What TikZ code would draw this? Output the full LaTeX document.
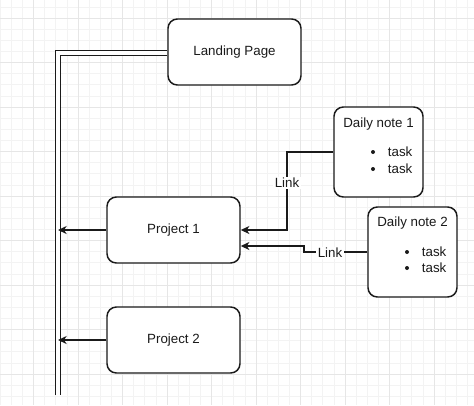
\documentclass[tikz,border=0pt]{standalone}
\usepackage{fontspec}
\setmainfont{Liberation Sans}
\usetikzlibrary{arrows.meta}
\definecolor{ink}{HTML}{1A1A1A}
\definecolor{gridminor}{HTML}{F3F3F3}
\definecolor{gridmajor}{HTML}{E6E6E6}
\tikzset{
  box/.style={draw=ink, line width=1.1pt, rounded corners=7pt, inner sep=0pt, fill=white},
  wide/.style={box, minimum width=99.75pt, minimum height=49.5pt},
  note/.style={box, minimum width=66.75pt, minimum height=67.5pt},
  lbl/.style={font=\fontsize{10}{12}\selectfont, text=ink, inner sep=0.5pt},
  dot/.style={circle, fill=ink, inner sep=0pt, minimum size=3pt},
  edge/.style={draw=ink, line width=1.1pt, -{Stealth[length=6.5pt,width=6pt,inset=2pt]}},
  linklbl/.style={lbl, fill=white, inner sep=1pt},
  trunk/.style={draw=ink, line width=1pt, double=white, double distance=2.4pt},
}
\begin{document}
\begin{tikzpicture}[x=0.75pt, y=-0.75pt]
\useasboundingbox (0,0) rectangle (474,405);
\fill[white] (0,0) rectangle (474,405);
% grid
\foreach \i in {0,...,42} {
  \draw[gridminor, line width=0.5pt] ({0.125+\i*11.125},0) -- ({0.125+\i*11.125},405);
}
\foreach \j in {0,...,36} {
  \draw[gridminor, line width=0.5pt] (0,{6.875+\j*11.125}) -- (474,{6.875+\j*11.125});
}
\foreach \i in {0,...,10} {
  \draw[gridmajor, line width=0.6pt] ({33.5+\i*44.5},0) -- ({33.5+\i*44.5},405);
}
\foreach \j in {0,...,9} {
  \draw[gridmajor, line width=0.6pt] (0,{18+\j*44.5}) -- (474,{18+\j*44.5});
}
% nodes
\node[wide, lbl, draw=ink, line width=1.1pt] (landing) at (234.5,52) {Landing Page};
\node[wide, lbl, draw=ink, line width=1.1pt] (p1) at (173.5,230) {Project 1};
\node[wide, lbl, draw=ink, line width=1.1pt] (p2) at (173.5,340) {Project 2};
\node[note] (dn1) at (378.5,152) {};
\node[note] (dn2) at (412.5,252) {};
\node[lbl] (dn1t) at (378.5,124) {Daily note 1};
\node[dot] (dn1b1) at (373,152) {};
\node[dot] (dn1b2) at (373,169) {};
\node[lbl, anchor=west] (dn1k1) at (387,152) {task};
\node[lbl, anchor=west] (dn1k2) at (387,169) {task};
\node[lbl] (dn2t) at (412.5,223) {Daily note 2};
\node[dot] (dn2b1) at (407,252) {};
\node[dot] (dn2b2) at (407,268) {};
\node[lbl, anchor=west] (dn2k1) at (421,252) {task};
\node[lbl, anchor=west] (dn2k2) at (421,268) {task};
% trunk
\coordinate (tcorner) at (58,53);
\coordinate (tend) at (58,395);
\draw[trunk] (landing.west |- tcorner) -- (tcorner) -- (tend);
\coordinate (a1) at (58,230);
\coordinate (a2) at (58,340);
\draw[edge] (p1.west) -- (a1);
\draw[edge] (p2.west) -- (a2);
% links
\coordinate (l1a) at (287,152);
\coordinate (l1b) at (287,230);
\draw[edge] (dn1.west) -- (l1a) -- (l1b) -- (p1.east |- l1b);
\node[linklbl] (link1) at (287,183) {Link};
\coordinate (l2a) at (304,252);
\coordinate (l2b) at (304,246);
\draw[edge] (dn2.west) -- (l2a) -- (l2b) -- (p1.east |- l2b);
\node[linklbl] (link2) at (330,253) {Link};
\end{tikzpicture}
\end{document}
